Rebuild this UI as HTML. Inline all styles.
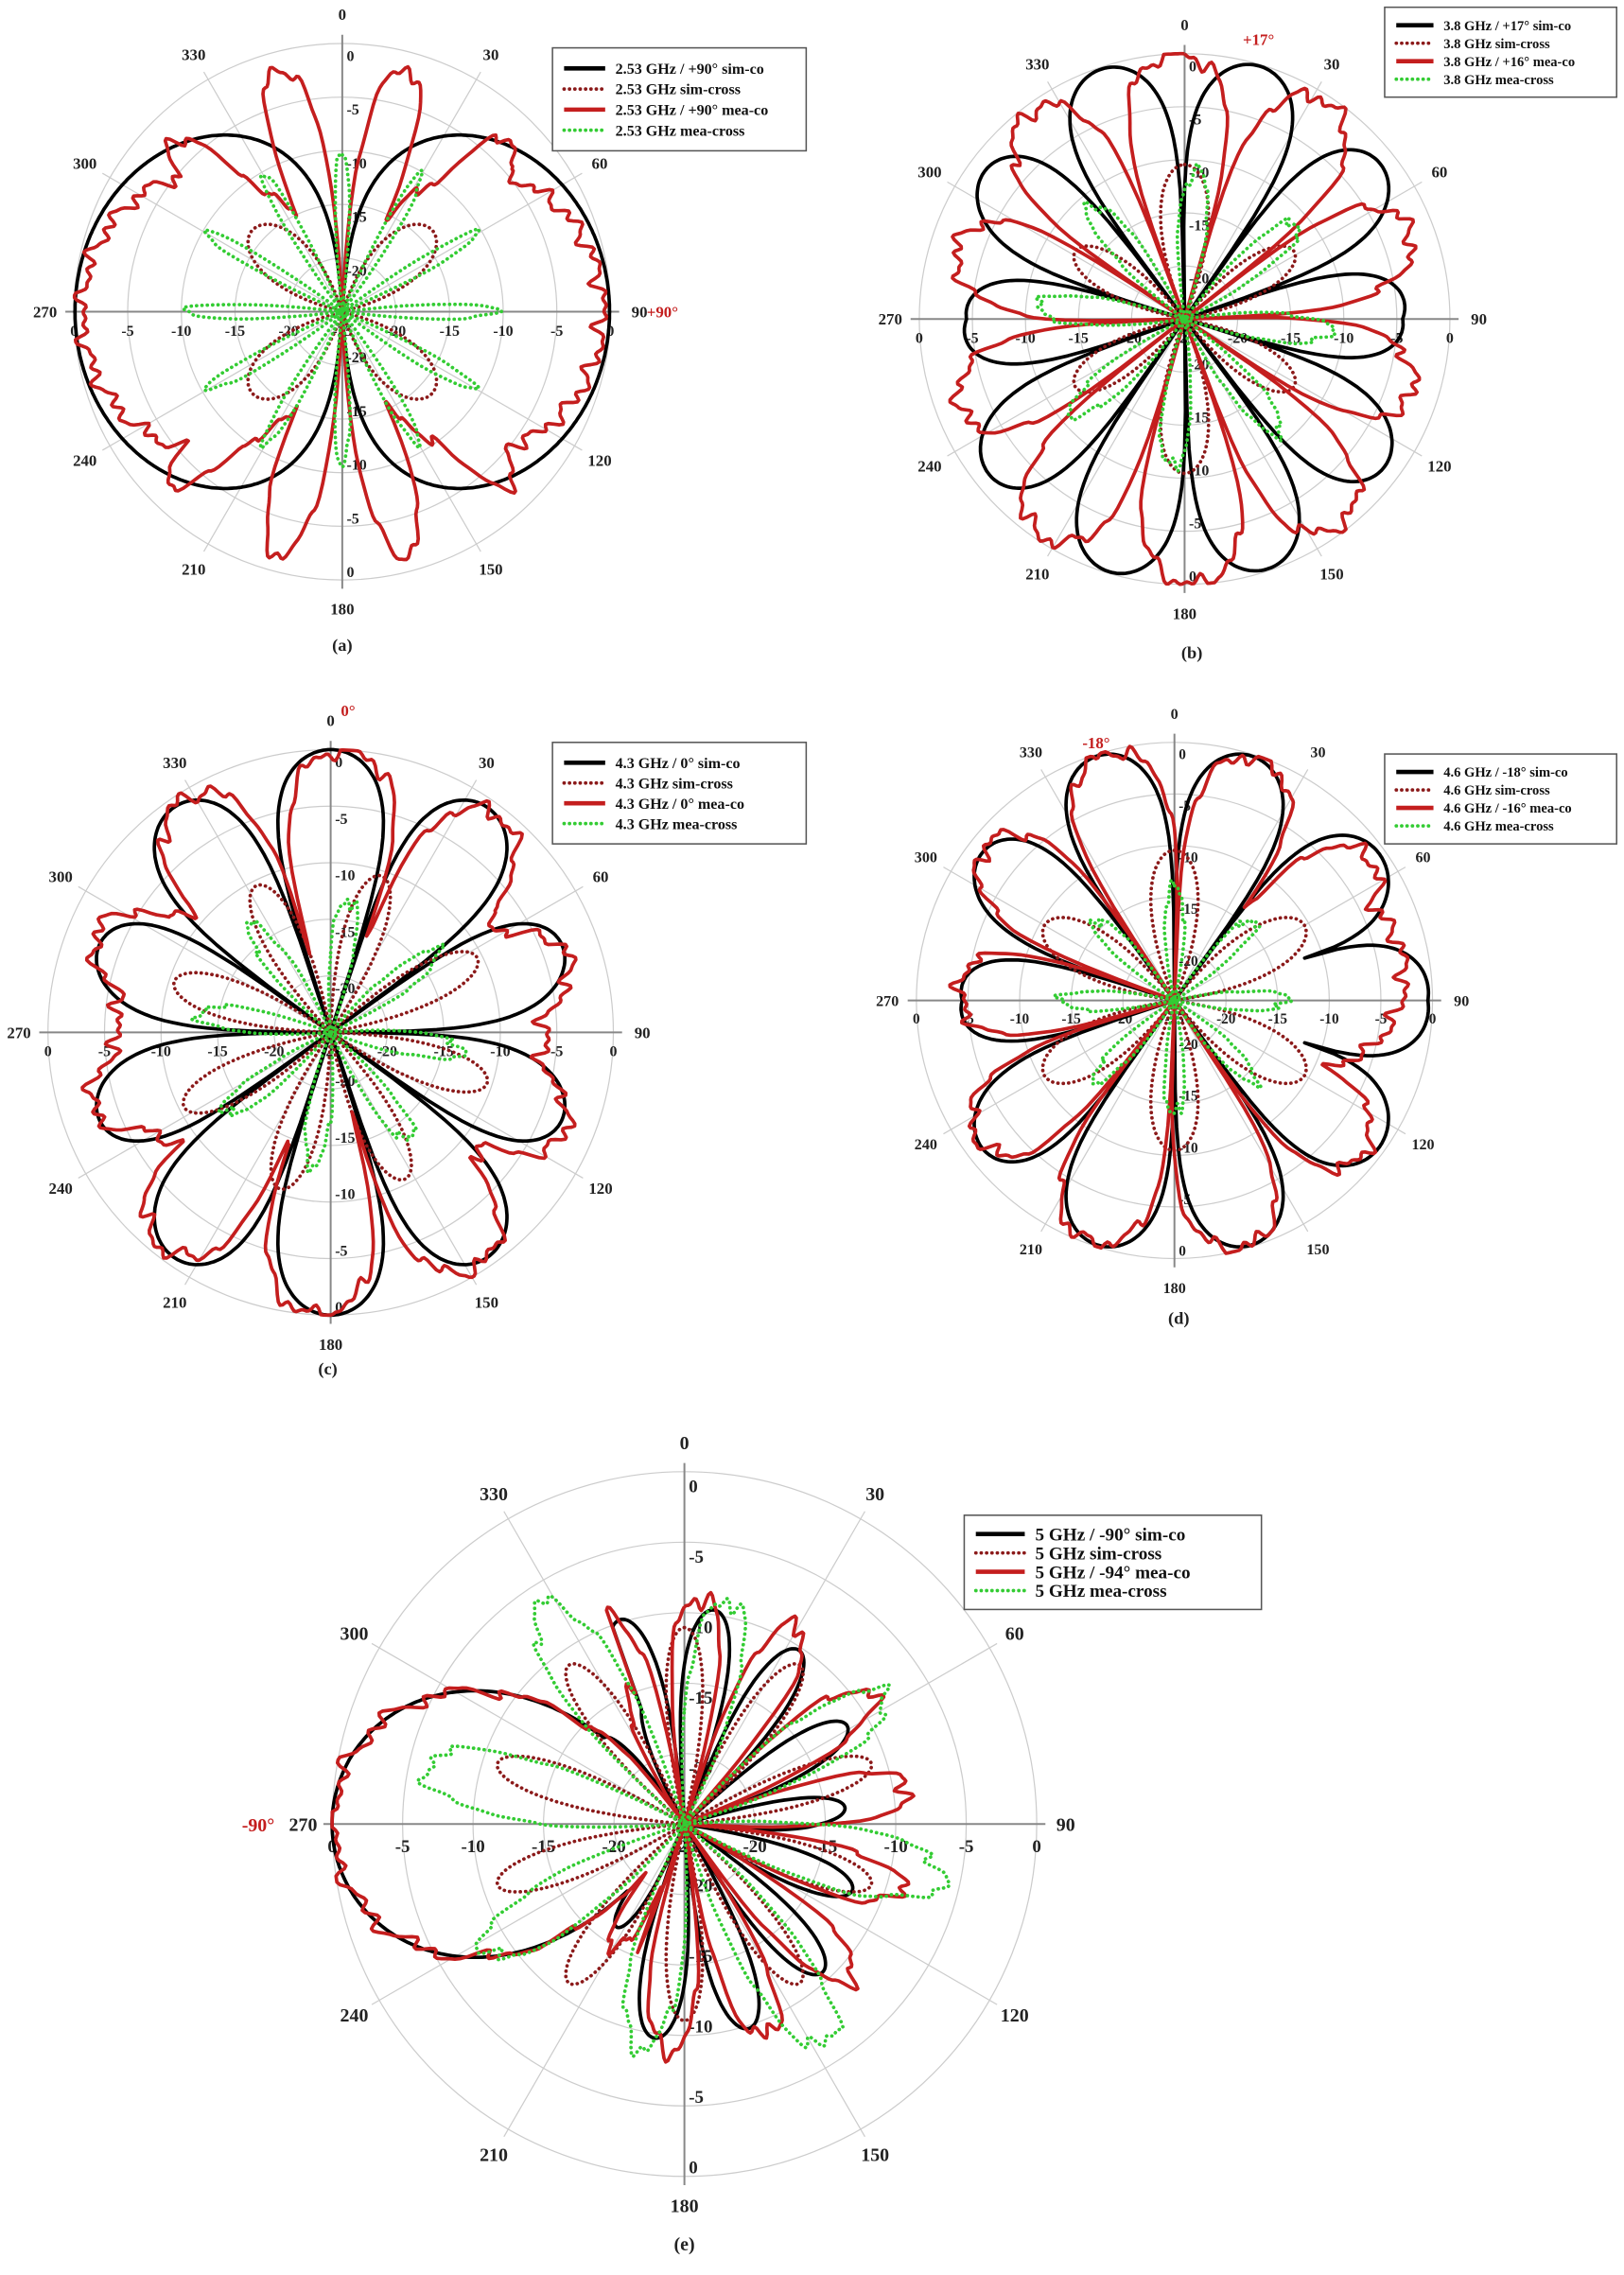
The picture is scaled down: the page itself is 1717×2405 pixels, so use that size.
<!DOCTYPE html>
<html><head><meta charset="utf-8"><style>
html,body{margin:0;padding:0;background:#fff;}
svg{display:block;}
text{font-family:"Liberation Serif",serif;font-weight:bold;}
</style></head><body>
<svg id="s" width="1717" height="2405" viewBox="0 0 1120 1569" xmlns="http://www.w3.org/2000/svg">
<rect width="1120" height="1569" fill="#fff"/>
<g id="g"></g>
</svg>
<script>
var g=document.getElementById('g');var NS='http://www.w3.org/2000/svg';
function el(t,a,txt){var e=document.createElementNS(NS,t);for(var k in a)e.setAttribute(k,a[k]);if(txt!==undefined)e.textContent=txt;g.appendChild(e);return e;}
var D=Math.PI/180;
function lobe(t,n,ph){return Math.abs(Math.cos((t-ph)*n/2*D));}
function db(a){if(a<1e-4)return -25;var v=20*Math.log10(a);return v<-25?-25:(v>0?0:v);}
function nz(t,s){return 1+0.05*Math.sin(t*37*D+s)+0.04*Math.sin(t*71*D+2*s)+0.03*Math.sin(t*113*D+s*3);}
function grid(cx,cy,R,fs){
 for(var i=1;i<=5;i++)el('circle',{cx:cx,cy:cy,r:R*i/5,fill:'none',stroke:'#ccc','stroke-width':0.8});
 for(var a=0;a<360;a+=30){
  el('line',{x1:cx,y1:cy,x2:cx+(R+6)*Math.sin(a*D),y2:cy-(R+6)*Math.cos(a*D),stroke:(a%90==0)?'#888':'#ccc','stroke-width':(a%90==0)?1.3:0.8});
  var lx=cx+(R+20)*Math.sin(a*D),ly=cy-(R+20)*Math.cos(a*D)+fs*0.35;
  el('text',{x:lx,y:ly,'font-size':fs,'text-anchor':'middle',fill:'#222'},String(a));}
 var labs=['0','-5','-10','-15','-20','-25','-20','-15','-10','-5','0'];
 for(var i=0;i<11;i++){el('text',{x:cx-R+i*R/5,y:cy+fs*1.5,'font-size':fs*0.95,'text-anchor':'middle',fill:'#222'},labs[i]);}
 var v=['0','-5','-10','-15','-20'];
 for(var i=0;i<5;i++){el('text',{x:cx+3,y:cy-R+i*R/5+fs*1.1,'font-size':fs*0.95,fill:'#222'},v[i]);
  el('text',{x:cx+3,y:cy+R-i*R/5-2,'font-size':fs*0.95,fill:'#222'},v[i]);}
}
function curve(cx,cy,R,f,col,dash,w){
 var d='';for(var t=0;t<=360;t+=0.5){var r=R*(db(f(t))+25)/25;var x=cx+r*Math.sin(t*D),y=cy-r*Math.cos(t*D);d+=(t==0?'M':'L')+x.toFixed(1)+' '+y.toFixed(1);}
 var a={d:d,fill:'none',stroke:col,'stroke-width':w||2.4,'stroke-linejoin':'round'};
 if(dash){a['stroke-dasharray']='0.1 3.6';a['stroke-linecap']='round';a['stroke-width']=2.4;}
 el('path',a);
}
function legend(x,y,w,h,items,fs){
 el('rect',{x:x,y:y,width:w,height:h,fill:'#fff',stroke:'#555','stroke-width':1});
 var cols=['#000','#8b1a1a','#c41e1e','#3c3'];var dsh=[0,1,0,1];
 for(var i=0;i<4;i++){var yy=y+h*(0.2+i*0.2);
  var a={x1:x+8,y1:yy,x2:x+8+fs*2.7,y2:yy,stroke:cols[i],'stroke-width':dsh[i]?2.4:3};
  if(dsh[i]){a['stroke-dasharray']='0.1 3.6';a['stroke-linecap']='round';}
  el('line',a);
  el('text',{x:x+14+fs*2.8,y:yy+fs*0.35,'font-size':fs,fill:'#111'},items[i]);}
}
var BK='#000',BR='#8b1a1a',RD='#c41e1e',GR='#3c3';
// (a)
(function(){var cx=236,cy=215,R=185;grid(cx,cy,R,11);
 curve(cx,cy,R,function(t){return Math.abs(Math.sin(t*D))*0.99;},BK);
 curve(cx,cy,R,function(t){return 0.24*Math.pow(lobe(t,4,45),2)*(0.5+0.5*Math.abs(Math.sin(t*D)));},BR,1);
 curve(cx,cy,R,function(t){var s=Math.abs(Math.sin(t*D));return Math.max(0.92*Math.pow(s,2),0.85*Math.pow(lobe(t,12,15),2)*(0.6+0.4*Math.abs(Math.cos(t*D))))*nz(t,1);},RD);
 curve(cx,cy,R,function(t){return 0.3*Math.pow(lobe(t,12,0),6)*nz(t,2);},GR,1);
 legend(381,33,175,71,['2.53 GHz / +90° sim-co','2.53 GHz sim-cross','2.53 GHz / +90° mea-co','2.53 GHz mea-cross'],10.5);
 el('text',{x:446,y:219,'font-size':11,fill:RD},'+90°');
 el('text',{x:236,y:449,'font-size':12,'text-anchor':'middle',fill:'#222','font-weight':'normal'},'(a)');
})();
// (b)
(function(){var cx=817,cy=220,R=183;grid(cx,cy,R,11);
 curve(cx,cy,R,function(t){return (0.6+0.4*Math.abs(Math.cos(t*D)))*Math.pow(lobe(t,10,17),0.6);},BK);
 curve(cx,cy,R,function(t){return 0.3*Math.pow(lobe(t,6,0),2)*(0.5+0.5*Math.abs(Math.cos(t*D)));},BR,1);
 curve(cx,cy,R,function(t){return (0.65+0.35*Math.abs(Math.cos(t*D)))*Math.pow(lobe(t,10,-2),0.6)*nz(t,3);},RD);
 curve(cx,cy,R,function(t){return 0.28*Math.pow(lobe(t,8,5),3)*nz(t,4);},GR,1);
 legend(955,5,160,62,['3.8 GHz / +17° sim-co','3.8 GHz sim-cross','3.8 GHz / +16° mea-co','3.8 GHz mea-cross'],9.5);
 el('text',{x:868,y:31,'font-size':11,fill:RD,'text-anchor':'middle'},'+17°');
 el('text',{x:822,y:454,'font-size':12,'text-anchor':'middle',fill:'#222','font-weight':'normal'},'(b)');
})();
// (c)
(function(){var cx=228,cy=712,R=195;grid(cx,cy,R,11);
 curve(cx,cy,R,function(t){return (0.55+0.45*Math.abs(Math.cos(t*D)))*Math.pow(lobe(t,10,0),0.6);},BK);
 curve(cx,cy,R,function(t){return 0.3*Math.pow(lobe(t,8,18),2);},BR,1);
 curve(cx,cy,R,function(t){return Math.max(0.5*Math.abs(Math.sin(t*D)),(0.6+0.4*Math.abs(Math.cos(t*D)))*Math.pow(lobe(t,10,3),0.6))*nz(t,5);},RD);
 curve(cx,cy,R,function(t){return 0.22*Math.pow(lobe(t,8,8),3)*nz(t,6);},GR,1);
 legend(381,512,175,70,['4.3 GHz / 0° sim-co','4.3 GHz sim-cross','4.3 GHz / 0° mea-co','4.3 GHz mea-cross'],10.5);
 el('text',{x:240,y:494,'font-size':11,fill:RD,'text-anchor':'middle'},'0°');
 el('text',{x:226,y:948,'font-size':12,'text-anchor':'middle',fill:'#222','font-weight':'normal'},'(c)');
})();
// (d)
(function(){var cx=810,cy=690,R=178;grid(cx,cy,R,10.5);
 curve(cx,cy,R,function(t){return (0.6+0.4*Math.abs(Math.cos(t*D)))*Math.pow(lobe(t,10,-18),0.6)+0.35*Math.pow(Math.max(0,Math.sin(t*D)),6);},BK);
 curve(cx,cy,R,function(t){return 0.3*Math.pow(lobe(t,6,0),2);},BR,1);
 curve(cx,cy,R,function(t){return Math.max(0.75*Math.pow(Math.max(0,Math.sin((t+10)*D)),4),(0.6+0.4*Math.abs(Math.cos(t*D)))*Math.pow(lobe(t,10,-16),0.6))*nz(t,7);},RD);
 curve(cx,cy,R,function(t){return 0.2*Math.pow(lobe(t,8,0),3)*nz(t,8);},GR,1);
 legend(955,520,160,62,['4.6 GHz / -18° sim-co','4.6 GHz sim-cross','4.6 GHz / -16° mea-co','4.6 GHz mea-cross'],9.5);
 el('text',{x:756,y:516,'font-size':11,fill:RD,'text-anchor':'middle'},'-18°');
 el('text',{x:813,y:913,'font-size':12,'text-anchor':'middle',fill:'#222','font-weight':'normal'},'(d)');
})();
// (e)
(function(){var cx=472,cy=1258,R=243;grid(cx,cy,R,13);
 curve(cx,cy,R,function(t){return Math.max(Math.pow(Math.max(0,-Math.sin(t*D)),5),0.33*Math.pow(lobe(t,14,8),0.8)*(0.6+0.4*Math.abs(Math.cos(t*D)))*(t>200&&t<340?0.5:1));},BK);
 curve(cx,cy,R,function(t){return 0.28*Math.pow(lobe(t,10,0),2);},BR,1);
 curve(cx,cy,R,function(t){return Math.max(Math.pow(Math.max(0,-Math.sin(t*D)),5),0.36*Math.pow(lobe(t,14,4),0.8)*(t>200&&t<340?0.5:1))*nz(t,9);},RD);
 curve(cx,cy,R,function(t){return 0.5*Math.pow(lobe(t,8,12),2.5)*nz(t,10)*(0.6+0.4*Math.abs(Math.sin((t-30)*D)));},GR,1);
 legend(665,1045,205,65,['5 GHz / -90° sim-co','5 GHz sim-cross','5 GHz / -94° mea-co','5 GHz mea-cross'],12.5);
 el('text',{x:178,y:1263,'font-size':13,fill:RD,'text-anchor':'middle'},'-90°');
 el('text',{x:472,y:1552,'font-size':13,'text-anchor':'middle',fill:'#222','font-weight':'normal'},'(e)');
})();
</script>
</body></html>
